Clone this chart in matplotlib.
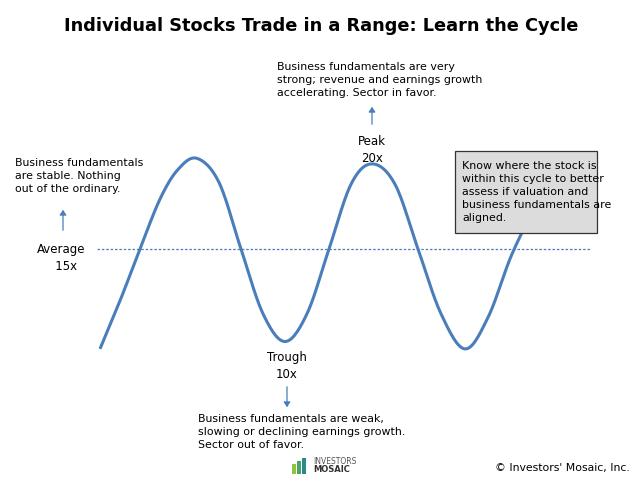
import matplotlib
matplotlib.use("Agg")
import matplotlib.pyplot as plt
from matplotlib.patches import Rectangle
import numpy as np

# Horizontal position (px) and P/E multiple
cycle_x = [100, 120, 140, 160, 178, 197, 219, 241, 263, 285, 307, 329, 351, 372,
           395, 418, 441, 465, 488, 511, 534]
cycle_pe = [9.6, 12.2, 15.0, 17.7, 19.3, 19.9, 18.6, 15.0, 11.5, 10.0, 11.5, 15.0, 18.5, 19.6,
            18.5, 15.0, 11.5, 9.6, 11.3, 14.6, 17.2]
average_pe = 15

W, H = 638, 478
fig = plt.figure(figsize=(W/100, H/100), dpi=100)
ax = fig.add_axes([0, 0, 1, 1])
ax.set_xlim(0, W)
scale = 18.5
ax.set_ylim(average_pe - (H - 249) / scale, average_pe + 249 / scale)
ax.axis("off")

def smooth(x, y, n=16):
    x = np.asarray(x, float); y = np.asarray(y, float)
    px = np.concatenate([[2*x[0]-x[1]], x, [2*x[-1]-x[-2]]])
    py = np.concatenate([[2*y[0]-y[1]], y, [2*y[-1]-y[-2]]])
    ox, oy = [], []
    for i in range(1, len(px)-2):
        t = np.linspace(0, 1, n, endpoint=False)
        for arr, out in ((px, ox), (py, oy)):
            p0, p1, p2, p3 = arr[i-1], arr[i], arr[i+1], arr[i+2]
            out.extend(0.5*((2*p1) + (-p0+p2)*t + (2*p0-5*p1+4*p2-p3)*t**2 + (-p0+3*p1-3*p2+p3)*t**3))
    ox.append(x[-1]); oy.append(y[-1])
    return ox, oy

blue = "#4a7ebb"
sx, sy = smooth(cycle_x, cycle_pe)
ax.plot(sx, sy, color=blue, lw=2.2, solid_capstyle="butt", zorder=2)
ax.plot([97, 590], [average_pe, average_pe], color=blue, lw=0.9, ls=(0, (2, 1.5)), zorder=1)

def T(x, y, s, **kw):
    fig.text(x / W, 1 - y / H, s, **kw)

T(321, 26, "Individual Stocks Trade in a Range: Learn the Cycle", fontsize=12.8, fontweight="bold",
  ha="center", va="center")
fs = 7.9
T(277, 80, "Business fundamentals are very\nstrong; revenue and earnings growth\naccelerating. Sector in favor.",
  fontsize=fs, va="center", linespacing=1.4)
T(372, 150, "Peak\n20x", fontsize=8.5, ha="center", va="center", linespacing=1.4)
T(15, 176, "Business fundamentals\nare stable. Nothing\nout of the ordinary.", fontsize=fs, va="center", linespacing=1.4)
T(61, 258, "Average\n   15x", fontsize=8.5, ha="center", va="center", linespacing=1.4)
T(287, 366, "Trough\n10x", fontsize=8.5, ha="center", va="center", linespacing=1.4)
T(198, 432, "Business fundamentals are weak,\nslowing or declining earnings growth.\nSector out of favor.",
  fontsize=fs, va="center", linespacing=1.4)
T(630, 468, "© Investors' Mosaic, Inc.", fontsize=7.8, ha="right", va="center")

def arrow(x, y0, y1):
    fig.add_artist(matplotlib.patches.FancyArrowPatch((x / W, 1 - y0 / H), (x / W, 1 - y1 / H),
                   transform=fig.transFigure, arrowstyle="-|>,head_length=3,head_width=2",
                   color=blue, lw=0.9, mutation_scale=1))
arrow(63, 233, 207)
arrow(372, 127, 104)
arrow(287, 384, 410)

# text box
fig.add_artist(Rectangle((455 / W, 1 - 233 / H), 142 / W, 82 / H, transform=fig.transFigure,
                         facecolor="#dcdcdc", edgecolor="#333333", lw=0.9, zorder=5))
T(462, 192, "Know where the stock is\nwithin this cycle to better\nassess if valuation and\nbusiness fundamentals are\naligned.",
  fontsize=fs, va="center", linespacing=1.35, zorder=6)

# logo
for i, h in enumerate([10, 13, 16]):
    fig.add_artist(Rectangle(((292 + i * 5) / W, 1 - 474 / H), 3.5 / W, h / H, transform=fig.transFigure,
                             facecolor=["#8cc63f", "#4aa564", "#2a8a8a"][i], edgecolor="none"))
T(313, 462, "INVESTORS", fontsize=5.5, color="#555555", va="center")
T(313, 470, "MOSAIC", fontsize=6, color="#333333", fontweight="bold", va="center")

fig.savefig("out.png", dpi=100)
